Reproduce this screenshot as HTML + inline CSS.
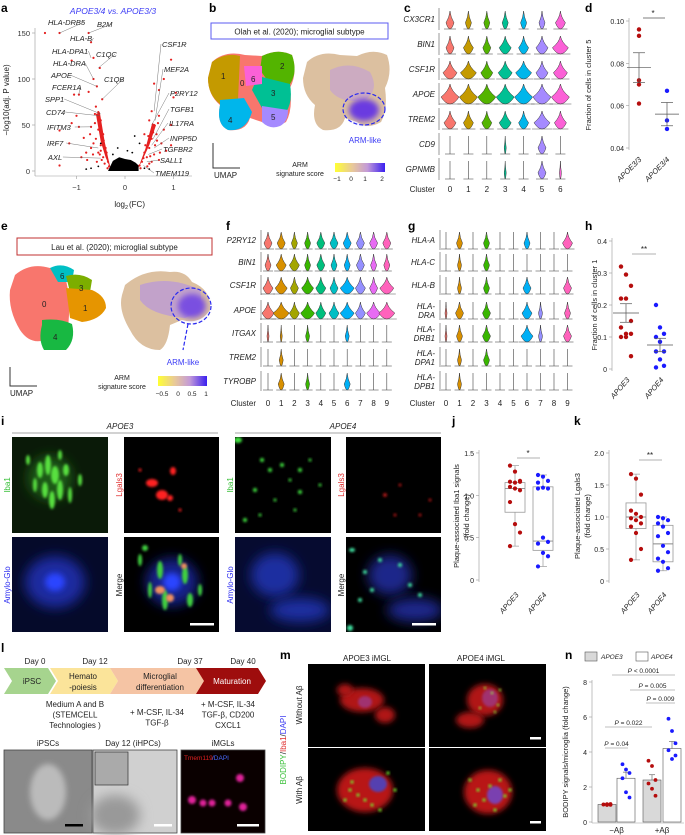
<!DOCTYPE html>
<html><head><meta charset="utf-8"><style>
html,body{margin:0;padding:0;background:#fff;}
svg{display:block;font-family:"Liberation Sans",sans-serif;}
text{font-family:"Liberation Sans",sans-serif;}
</style></head><body>
<svg id="fig" xmlns="http://www.w3.org/2000/svg" width="685" height="835" viewBox="0 0 685 835">
<defs>
<filter id="b1" x="-50%" y="-50%" width="200%" height="200%"><feGaussianBlur stdDeviation="1.2"/></filter>
<filter id="b3" x="-50%" y="-50%" width="200%" height="200%"><feGaussianBlur stdDeviation="3"/></filter>
<filter id="b6" x="-50%" y="-50%" width="200%" height="200%"><feGaussianBlur stdDeviation="6"/></filter>
<linearGradient id="armgrad" x1="0" x2="1"><stop offset="0" stop-color="#ffff33"/><stop offset="0.35" stop-color="#e8c89a"/><stop offset="0.65" stop-color="#c39ad8"/><stop offset="1" stop-color="#3a1ff0"/></linearGradient>
</defs>
</svg>
<script>
const NS='http://www.w3.org/2000/svg';
const svg=document.getElementById('fig');
function mk(tag,attrs,name,parent){
  const el=document.createElementNS(NS,tag);
  for(const k in attrs) el.setAttribute(k,attrs[k]);
  
  
  (parent||svg).appendChild(el);
  return el;
}
function tx(x,y,s,o,name,parent){
  o=o||{};
  const a={x:x,y:y,'font-size':o.fs||8,fill:o.fill||'#222'};
  if(o.anchor) a['text-anchor']=o.anchor;
  if(o.it) a['font-style']='italic';
  if(o.bold) a['font-weight']='bold';
  if(o.rot!==undefined) a.transform='rotate('+o.rot+' '+x+' '+y+')';
  const el=mk('text',a,name,parent);
  el.textContent=s;
  return el;
}
function ln(x1,y1,x2,y2,c,w,name,dash){
  const a={x1:x1,y1:y1,x2:x2,y2:y2,stroke:c||'#333','stroke-width':w||0.7};
  if(dash) a['stroke-dasharray']=dash;
  return mk('line',a,name);
}
function panelLabel(x,y,s){tx(x,y,s,{fs:12,bold:true,fill:'#000'},'panel-label-'+s);}

/* ================= DATA ================= */
const volcRedFC=[-1.65,-1.35,-0.75,-0.7,-1.1,-0.65,-0.52,-0.65,-0.58,-0.47,-0.95,-0.75,-1.05,-0.6,-0.55,-0.62,-1.0,-0.5,-1.1,-0.95,-0.7,-1.35,-0.85,-1.15,-0.55,-0.45,-0.6,-0.5,-0.4,-0.7,-0.8,-1.35,-0.9,-0.45,-0.35,-0.38,-0.55,-0.65,-0.42,-0.33,-0.48,-0.52,-0.36,-0.58,-0.62,-0.72,-0.44,-0.66,-0.78,-0.5,
  0.95,0.6,0.8,0.7,1.0,1.05,0.55,0.7,0.5,0.6,0.95,0.65,0.55,0.75,0.95,0.85,0.5,0.4,0.45,0.35,0.3,0.6,0.7,0.5,0.42,0.62,0.8,0.4,0.32,0.38,0.46,0.55,0.66,0.58,0.72,0.48,0.52,0.68];
const volcRedP=[150,150,150,140,120,123,112,100,92,78,83,86,83,70,64,62,60,55,52,48,48,44,36,30,45,40,35,28,25,25,20,6,15,15,10,20,20,30,8,5,12,18,3,10,52,40,33,18,12,22,
  121,95,100,88,80,85,65,60,55,50,50,40,35,30,28,22,25,20,15,10,6,18,12,8,28,28,45,40,3,14,5,10,33,42,20,38,16,52];
const volcBlkFC=[-0.8,-0.7,-0.55,0.4,0.5,-0.5,0.2,0.3,-0.15,0.05,-0.25,0.15];
const volcBlkP=[2,3,5,3,2,30,38,30,25,22,18,20];
const cloudFC=[-0.35,-0.25,-0.12,0.0,0.12,0.22,0.28,0.28,-0.35];
const cloudP=[0,11,15,13,12,9,6,0,0];
const redLeftFC=[-0.28,-0.4,-0.5,-0.6,-0.52,-0.42,-0.33];
const redLeftP=[0,15,32,62,64,32,10];
const redRightFC=[0.24,0.36,0.5,0.64,0.56,0.42,0.3];
const redRightP=[0,12,28,50,52,24,7];
const volcLabels=['HLA-DRB5','B2M','HLA-B','HLA-DPA1','C1QC','HLA-DRA','APOE','C1QB','FCER1A','SPP1','CD74','IFITM3','IRF7','AXL','CSF1R','MEF2A','P2RY12','TGFB1','IL17RA','INPP5D','TGFBR2','SALL1','TMEM119'];
const volcLabFC=[-1.35,-0.75,-0.7,-0.7,-0.55,-0.65,-0.58,-0.47,-0.95,-0.5,-0.52,-0.7,-0.55,-0.5,0.6,0.62,0.55,0.58,0.55,0.6,0.48,0.45,0.38];
const volcLabP=[150,150,140,123,112,100,92,78,83,62,60,48,25,14,65,55,50,35,28,25,18,10,6];
const volcX=[-1,0,1];
const volcY=[0,50,100,150];

const cGenes=['CX3CR1','BIN1','CSF1R','APOE','TREM2','CD9','GPNMB'];
const cClusters=['0','1','2','3','4','5','6'];
const cWidths=[[4,3,3,3,3,3,5],[4,5,4,6,5,6,8],[7,8,6,7,8,6,7],[9,9,9,9,9,9,9],[6,5,5,6,5,8,6],[0,0,0,1,0,4,0],[0,0,0,1,0,4,1]];
const dGroups=['APOE3/3','APOE3/4'];
const dRed=[0.096,0.093,0.072,0.070,0.061];
const dBlue=[0.067,0.053,0.049];
const dMean=[0.078,0.056];
const dSem=[0.007,0.0055];
const dTicks=[0.04,0.06,0.08,0.10];
const fGenes=['P2RY12','BIN1','CSF1R','APOE','ITGAX','TREM2','TYROBP'];
const fgClusters=['0','1','2','3','4','5','6','7','8','9'];
const fWidths=[[4,4,3,3,4,4,4,4,4,4],[3,5,5,3,4,3,3,4,3,3],[5,6,4,6,5,4,7,5,4,7],[6,8,5,7,5,5,7,5,7,8],[1,1,0,2,0,0,2,0,0,0],[0,2,0,0,0,0,0,0,0,0],[0,3,0,2,0,0,3,0,0,0]];
const gGenes=['HLA-A','HLA-C','HLA-B','HLA-DRA','HLA-DRB1','HLA-DPA1','HLA-DPB1'];
const gWidths=[[0,3,0,3,0,0,3,0,0,5],[0,2,0,3,0,0,0,0,0,0],[0,2,0,3,0,0,4,0,0,4],[1,4,0,4,0,0,5,2,0,3],[1,3,0,4,0,0,6,2,0,4],[0,2,0,3,0,0,0,0,0,0],[0,2,0,0,0,0,0,0,0,0]];
const hGroups=['APOE3','APOE4'];
const hRed=[0.32,0.295,0.26,0.22,0.22,0.15,0.13,0.11,0.11,0.10,0.10,0.04];
const hBlue=[0.20,0.13,0.11,0.10,0.085,0.055,0.055,0.03,0.01,0.005];
const hMean=[0.175,0.075];
const hSem=[0.029,0.021];
const hTicks=[0,0.1,0.2,0.3,0.4];
const jRed=[1.35,1.28,1.17,1.16,1.15,1.16,1.1,1.08,1.06,0.92,0.66,0.56,0.4];
const jBlue=[1.24,1.22,1.17,1.15,1.09,1.08,1.08,0.5,0.45,0.43,0.32,0.28,0.16];
const jBox3=[0.4,0.8,1.08,1.15,1.35];
const jBox4=[0.16,0.35,0.46,1.1,1.24];
const jTicks=[0,0.5,1.0,1.5];
const kRed=[1.67,1.6,1.35,1.1,1.05,1.0,0.98,0.95,0.9,0.85,0.75,0.5,0.33];
const kBlue=[1.0,0.98,0.95,0.9,0.85,0.75,0.7,0.55,0.45,0.35,0.3,0.2,0.16];
const kBox3=[0.33,0.82,1.0,1.22,1.67];
const kBox4=[0.16,0.3,0.58,0.87,1.0];
const kTicks=[0,0.5,1.0,1.5,2.0];
const nConds=['\u2212A\u03b2','+A\u03b2'];
const nMeans=[1.0,2.5,2.4,4.2];
const nSems=[0.05,0.35,0.3,0.4];
const nPts=[[1,1.02,0.98,1.0,0.97,1.03],[3.3,3.0,2.8,2.5,1.7,1.4],[3.5,3.2,2.4,2.2,1.9,1.5],[5.9,5.2,4.5,4.1,3.6,3.8]];
const nTicks=[0,2,4,6,8];

/* ================= PANEL A ================= */
panelLabel(1,12,'a');
tx(113,14,'APOE3/4 vs. APOE3/3',{fs:8.5,it:true,fill:'#3b3bf5',anchor:'middle'},'volcano-title');
const vx=f=>125+f*48.5, vy=p=>171-p*0.92;
ln(35,28,35,176,'#999',0.6,'volcano-y-axis');
ln(35,176,192,176,'#999',0.6,'volcano-x-axis');
volcY.forEach(t=>{ln(32,vy(t),35,vy(t),'#999',0.6,'y-tick');tx(30,vy(t)+3,String(t),{fs:7.5,anchor:'end',fill:'#333'},'y-tick-label');});
volcX.forEach(t=>{ln(vx(t),176,vx(t),179,'#999',0.6,'x-tick');tx(vx(t),190,t<0?'\u22121':String(t),{fs:7.5,anchor:'middle',fill:'#333'},'x-tick-label');});
tx(125,207,'log',{fs:8,anchor:'end'},'x-axis-title');
tx(125,209,'2',{fs:5.5},'x-axis-title-sub');
tx(129,207,'(FC)',{fs:8},'x-axis-title-end');
tx(9,100,'\u2212log10(adj. P value)',{fs:8,anchor:'middle',rot:-90},'y-axis-title');
mk('path',{d:'M'+redLeftFC.map((f,i)=>vx(f)+','+vy(redLeftP[i])).join(' L')+'Z',fill:'#e52020'},'red-band-down');
mk('path',{d:'M'+redRightFC.map((f,i)=>vx(f)+','+vy(redRightP[i])).join(' L')+'Z',fill:'#e52020'},'red-band-up');
mk('path',{d:'M'+cloudFC.map((f,i)=>vx(f)+','+vy(cloudP[i])).join(' L')+'Z',fill:'#000'},'nonsig-cloud');
volcBlkFC.forEach((f,i)=>{mk('circle',{cx:vx(f),cy:vy(volcBlkP[i]),r:0.9,fill:'#000'},'gene-point-ns');});
volcRedFC.forEach((f,i)=>{mk('circle',{cx:vx(f),cy:vy(volcRedP[i]),r:1.1,fill:'#e52020'},'gene-point-sig');});
const labPos=[[48,25],[97,27],[70,41],[52,54],[96,57],[53,66],[51,78],[104,82],[52,90],[45,102],[46,115],[47,130],[47,146],[48,160],[162,47],[164,72],[170,96],[170,112],[169,126],[170,141],[163,152],[160,163],[155,176]];
volcLabels.forEach((g,i)=>{
  const lp=labPos[i];
  const right=volcLabFC[i]>0;
  tx(lp[0],lp[1],g,{fs:7.5,it:true},'gene-label-'+g);
  const lx=right?lp[0]-1:lp[0]+g.length*4.3+2;
  ln(lx,lp[1]-3,vx(volcLabFC[i]),vy(volcLabP[i]),'#555',0.4,'leader-line');
});

/* ================= PANEL B ================= */
panelLabel(209,12,'b');
mk('rect',{x:211,y:23,width:177,height:16,fill:'#fff',stroke:'#5b5bf0','stroke-width':1},'olah-title-box');
tx(299.5,34.5,'Olah et al. (2020); microglial subtype',{fs:8,anchor:'middle'},'olah-title');
function blob(d,fill,name,op){mk('path',{d:d,fill:fill,opacity:op||1},name);}
blob('M212,62 Q225,50 245,55 L262,56 Q278,48 292,55 Q298,72 290,88 Q293,110 286,122 Q272,130 262,122 L250,118 Q246,132 228,130 Q216,124 220,105 Q208,95 208,78 Z','#f8766d','umap-b-cluster-0');
blob('M212,62 Q225,52 240,56 L238,100 L220,104 Q208,95 208,78 Z','#c49a00','umap-b-cluster-1');
blob('M262,56 Q278,48 292,55 Q298,72 290,84 L270,84 L260,70 Z','#53b400','umap-b-cluster-2');
blob('M258,76 L290,84 Q293,102 286,112 L262,108 L252,90 Z','#00c094','umap-b-cluster-3');
blob('M220,100 L244,98 L252,112 Q246,132 228,130 Q216,124 220,105 Z','#00b6eb','umap-b-cluster-4');
blob('M262,106 L288,110 Q288,122 280,126 Q270,130 262,122 Z','#a58aff','umap-b-cluster-5');
blob('M244,66 L262,66 L262,84 L246,86 Z','#fb61d7','umap-b-cluster-6');
tx(221,79,'1',{fs:8},'cluster-label');tx(240,86,'0',{fs:8},'cluster-label');tx(251,82,'6',{fs:8},'cluster-label');
tx(280,69,'2',{fs:8},'cluster-label');tx(271,96,'3',{fs:8},'cluster-label');tx(228,123,'4',{fs:8},'cluster-label');tx(271,120,'5',{fs:8},'cluster-label');
blob('M307,62 Q320,50 340,55 L357,56 Q373,48 387,55 Q393,72 385,88 Q388,110 381,122 Q367,130 357,122 L345,118 Q341,132 323,130 Q311,124 315,105 Q303,95 303,78 Z','#dcc0a0','umap-b-arm');
blob('M330,70 Q350,60 370,72 Q380,90 365,100 Q340,104 330,90 Z','#c5a3cf','umap-b-arm-mid',0.7);
mk('ellipse',{cx:364,cy:110,rx:15,ry:11,fill:'#6a3ae0',filter:'url(#b3)'},'umap-b-arm-hot');
mk('ellipse',{cx:364,cy:109,rx:21,ry:16,fill:'none',stroke:'#2a2af0','stroke-width':1.2,'stroke-dasharray':'4 2'},'arm-like-circle');
tx(365,143,'ARM-like',{fs:8,fill:'#3b3bf5',anchor:'middle'},'arm-like-label');
mk('path',{d:'M213,143 L213,168 L240,168',fill:'none',stroke:'#333','stroke-width':1},'umap-axes-b');
tx(214,178,'UMAP',{fs:8},'umap-label-b');
tx(300,167,'ARM',{fs:7,anchor:'middle'},'colorbar-title');
tx(300,176,'signature score',{fs:7,anchor:'middle'},'colorbar-title-2');
mk('rect',{x:335,y:163,width:50,height:9,fill:'url(#armgrad)'},'colorbar-b');
[['\u22121',337],['0',351],['1',365],['2',382]].forEach(t=>tx(t[1],181,t[0],{fs:6.5,anchor:'middle'},'colorbar-tick'));

function violin(cx,base,h,w,color,name){
  ln(cx-Math.max(w,3)-2,base,cx+Math.max(w,3)+2,base,'#555',0.6,name+'-base');
  if(w<=0.5){ln(cx,base,cx,base-h,'#444',0.6,name+'-stem');return;}
  const top=base-h, mid=base-h*0.35;
  mk('path',{d:`M${cx},${top} Q${cx+w*0.15},${top+h*0.35} ${cx+w},${mid} Q${cx+w*0.5},${base} ${cx},${base} Q${cx-w*0.5},${base} ${cx-w},${mid} Q${cx-w*0.15},${top+h*0.35} ${cx},${top} Z`,fill:color,stroke:'#333','stroke-width':0.5},name);
}
/* ================= PANEL C ================= */
panelLabel(404,12,'c');
const cCols=['#f8766d','#c49a00','#53b400','#00c094','#00b6eb','#a58aff','#fb61d7'];
const cX=i=>450+i*18.4, cRowY=r=>19+r*25;
cGenes.forEach((g,r)=>{
  const y=cRowY(r);
  tx(435,y+3,g,{fs:8,it:true,anchor:'end'},'gene-label-'+g);
  ln(439,y-11,439,y+11,'#555',0.6,'row-axis');
  cClusters.forEach((c,i)=>violin(cX(i),y+10,r===3?20:18,cWidths[r][i],cCols[i],'violin-'+g+'-'+c));
});
tx(435,192,'Cluster',{fs:8,anchor:'end'},'cluster-axis-title');
cClusters.forEach((c,i)=>tx(cX(i),192,c,{fs:8,anchor:'middle'},'cluster-tick'));

/* ================= PANEL D ================= */
panelLabel(585,12,'d');
const dy=v=>148-(v-0.04)/0.06*127;
const dxs=[639,667];
ln(629,18,629,150,'#999',0.6,'d-y-axis');
dTicks.forEach(t=>{ln(626,dy(t),629,dy(t),'#999',0.6,'y-tick');tx(624,dy(t)+3,t.toFixed(2),{fs:7,anchor:'end'},'y-tick-label');});
tx(591,85,'Fraction of cells in cluster 5',{fs:7.5,anchor:'middle',rot:-90},'d-y-title');
dRed.forEach(v=>mk('circle',{cx:dxs[0],cy:dy(v),r:2.2,fill:'#b50d0d'},'point-apoe33'));
dBlue.forEach(v=>mk('circle',{cx:dxs[1],cy:dy(v),r:2.2,fill:'#1a1aff'},'point-apoe34'));
dMean.forEach((m,i)=>{
  ln(dxs[i]-12,dy(m),dxs[i]+12,dy(m),'#555',0.7,'mean-line');
  ln(dxs[i],dy(m-dSem[i]),dxs[i],dy(m+dSem[i]),'#555',0.7,'sem-bar');
  ln(dxs[i]-6,dy(m+dSem[i]),dxs[i]+6,dy(m+dSem[i]),'#555',0.7,'sem-cap');
  ln(dxs[i]-6,dy(m-dSem[i]),dxs[i]+6,dy(m-dSem[i]),'#555',0.7,'sem-cap');
});
ln(643,18,665,18,'#555',0.7,'sig-line');tx(653,16,'*',{fs:8,anchor:'middle'},'sig-star');
dGroups.forEach((g,i)=>tx(dxs[i]+3,160,g,{fs:7.5,it:true,anchor:'end',rot:-45},'x-label-'+g));

/* ================= PANEL E ================= */
panelLabel(1,230,'e');
mk('rect',{x:17,y:238,width:195,height:17,fill:'#fff',stroke:'#c03030','stroke-width':1},'lau-title-box');
tx(114.5,250,'Lau et al. (2020); microglial subtype',{fs:8,anchor:'middle'},'lau-title');
blob('M15,275 Q30,262 50,268 Q62,268 66,280 L70,300 L68,330 Q60,345 45,340 Q30,345 20,330 Q8,310 10,290 Z','#f8766d','umap-e-cluster-0');
blob('M50,268 Q62,262 74,270 L72,282 L58,282 Z','#00bfc4','umap-e-cluster-6');
blob('M66,276 Q80,272 92,280 L90,292 L70,292 Z','#7cae00','umap-e-cluster-3');
blob('M66,288 L92,290 Q106,296 106,308 Q100,320 82,322 L70,318 Z','#e69500','umap-e-cluster-1');
blob('M42,320 Q60,318 72,324 Q76,340 66,350 L44,350 Q38,340 42,325 Z','#18b842','umap-e-cluster-4');
tx(42,307,'0',{fs:8},'cluster-label');tx(60,279,'6',{fs:8},'cluster-label');tx(79,291,'3',{fs:8},'cluster-label');tx(83,311,'1',{fs:8},'cluster-label');tx(53,340,'4',{fs:8},'cluster-label');
blob('M125,285 Q145,268 170,272 Q185,270 192,282 Q212,290 210,310 Q200,325 182,320 L170,325 Q168,345 160,350 Q140,350 130,330 Q118,310 122,295 Z','#dcc0a0','umap-e-arm');
blob('M140,285 Q170,275 200,290 Q205,310 185,318 Q150,315 140,300 Z','#b998d8','umap-e-arm-mid',0.75);
mk('ellipse',{cx:192,cy:306,rx:14,ry:12,fill:'#7a50e0',filter:'url(#b3)'},'umap-e-arm-hot');
mk('ellipse',{cx:191,cy:306,rx:20,ry:18,fill:'none',stroke:'#2a2af0','stroke-width':1.2,'stroke-dasharray':'4 2'},'arm-like-circle-e');
ln(188,324,183,350,'#2a2af0',1.2,'arm-like-pointer','4 2');
tx(183,365,'ARM-like',{fs:8,fill:'#3b3bf5',anchor:'middle'},'arm-like-label-e');
mk('path',{d:'M10,367 L10,386 L37,386',fill:'none',stroke:'#333','stroke-width':1},'umap-axes-e');
tx(10,396,'UMAP',{fs:8},'umap-label-e');
tx(122,380,'ARM',{fs:7,anchor:'middle'},'colorbar-title-e');
tx(122,389,'signature score',{fs:7,anchor:'middle'},'colorbar-title-e2');
mk('rect',{x:158,y:376,width:49,height:10,fill:'url(#armgrad)'},'colorbar-e');
[['\u22120.5',162],['0',178],['0.5',192],['1',206]].forEach(t=>tx(t[1],396,t[0],{fs:6.5,anchor:'middle'},'colorbar-tick'));

/* ================= PANEL F & G ================= */
const fgCols=['#F8766D','#D89000','#A3A500','#39B600','#00BF7D','#00BFC4','#00B0F6','#9590FF','#E76BF3','#FF62BC'];
const fgRowY=[240,262,285,310,333,357,381];
panelLabel(226,230,'f');
const fX=i=>268+i*13.2;
fGenes.forEach((g,r)=>{
  const y=fgRowY[r];
  tx(256,y+3,g,{fs:8,it:true,anchor:'end'},'gene-label-'+g);
  ln(261,y-10,261,y+10,'#555',0.6,'row-axis');
  fgClusters.forEach((c,i)=>violin(fX(i),y+9,17,fWidths[r][i],fgCols[i],'violin-f-'+g+'-'+c));
});
tx(256,406,'Cluster',{fs:8,anchor:'end'},'cluster-axis-title-f');
fgClusters.forEach((c,i)=>tx(fX(i),406,c,{fs:8,anchor:'middle'},'cluster-tick'));
panelLabel(408,230,'g');
const gX=i=>446+i*13.5;
gGenes.forEach((g,r)=>{
  const y=fgRowY[r];
  if(g.length>5){
    tx(435,y-1,'HLA-',{fs:8,it:true,anchor:'end'},'gene-label-'+g);
    tx(435,y+8,g.slice(4),{fs:8,it:true,anchor:'end'},'gene-label-'+g+'-2');
  } else tx(435,y+3,g,{fs:8,it:true,anchor:'end'},'gene-label-'+g);
  ln(440,y-10,440,y+10,'#555',0.6,'row-axis');
  fgClusters.forEach((c,i)=>violin(gX(i),y+9,17,gWidths[r][i],fgCols[i],'violin-g-'+g+'-'+c));
});
tx(435,406,'Cluster',{fs:8,anchor:'end'},'cluster-axis-title-g');
fgClusters.forEach((c,i)=>tx(gX(i),406,c,{fs:8,anchor:'middle'},'cluster-tick'));

/* ================= PANEL H ================= */
panelLabel(585,230,'h');
const hy=v=>369-v*320;
const hxs=[626,660];
ln(612,238,612,371,'#999',0.6,'h-y-axis');
hTicks.forEach(t=>{ln(609,hy(t),612,hy(t),'#999',0.6,'y-tick');tx(607,hy(t)+3,String(t),{fs:7,anchor:'end'},'y-tick-label');});
tx(597,305,'Fraction of cells in cluster 1',{fs:7.5,anchor:'middle',rot:-90},'h-y-title');
hRed.forEach((v,i)=>mk('circle',{cx:hxs[0]+((i%3)-1)*5,cy:hy(v),r:2.2,fill:'#b50d0d'},'point-apoe3'));
hBlue.forEach((v,i)=>mk('circle',{cx:hxs[1]+((i%3)-1)*4,cy:hy(v),r:2.2,fill:'#1a1aff'},'point-apoe4'));
hMean.forEach((m,i)=>{
  ln(hxs[i]-13,hy(m),hxs[i]+13,hy(m),'#555',0.7,'mean-line');
  ln(hxs[i],hy(m-hSem[i]),hxs[i],hy(m+hSem[i]),'#555',0.7,'sem-bar');
  ln(hxs[i]-6,hy(m+hSem[i]),hxs[i]+6,hy(m+hSem[i]),'#555',0.7,'sem-cap');
  ln(hxs[i]-6,hy(m-hSem[i]),hxs[i]+6,hy(m-hSem[i]),'#555',0.7,'sem-cap');
});
ln(632,254,656,254,'#999',0.8,'sig-line-h');tx(644,252,'**',{fs:8,anchor:'middle'},'sig-star-h');
hGroups.forEach((g,i)=>tx(hxs[i]+4,380,g,{fs:7.5,it:true,anchor:'end',rot:-50},'x-label-'+g));

/* ================= PANEL I ================= */
panelLabel(1,425,'i');
tx(120,429,'APOE3',{fs:8,it:true,anchor:'middle'},'apoe3-header');
ln(12,433,218,433,'#888',0.8,'apoe3-header-line');
tx(343,429,'APOE4',{fs:8,it:true,anchor:'middle'},'apoe4-header');
ln(235,433,441,433,'#888',0.8,'apoe4-header-line');
function micro(x,y,w,h,name){
  const g=mk('g',{},name);
  mk('rect',{x:x,y:y,width:w,height:h,fill:'#000'},name+'-bg',g);
  const cp=mk('clipPath',{id:'cp-'+name},name+'-clip',g);
  mk('rect',{x:x,y:y,width:w,height:h},name+'-clip-rect',cp);
  return mk('g',{'clip-path':'url(#cp-'+name+')'},name+'-content',g);
}
function blobs(parent,pts,color,filt,name){pts.forEach(p=>mk('ellipse',{cx:p[0],cy:p[1],rx:p[2],ry:p[3]||p[2],fill:color,filter:filt||'url(#b1)'},name,parent));}
let m=micro(12,437,96,96,'apoe3-iba1-image');
mk('rect',{x:12,y:437,width:96,height:96,fill:'#0a1a08'},'tint',m);
blobs(m,[[50,478,22,22]],'#1f5a18','url(#b6)','glow');
blobs(m,[[40,470,3,8],[48,465,3,10],[55,475,4,9],[60,490,3,10],[45,490,3,8],[35,485,2,7],[66,470,3,6],[52,500,3,9],[70,495,2,8],[28,460,2,5],[80,480,2,6],[60,455,2,5]],'#58e040','url(#b1)','iba1-cell');
m=micro(124,437,95,96,'apoe3-lgals3-image');
blobs(m,[[152,483,6,4],[162,495,6,5],[173,471,3,4],[170,498,3,3],[140,470,1.5],[180,510,1.5]],'#ff2020','url(#b1)','lgals3-spot');
m=micro(12,537,96,95,'apoe3-amyloglo-image');
mk('rect',{x:12,y:537,width:96,height:95,fill:'#050a2a'},'tint',m);
blobs(m,[[55,582,30,26]],'#1a2aa0','url(#b6)','plaque-halo');
blobs(m,[[55,582,10,9]],'#2a44ff','url(#b3)','plaque-core');
m=micro(124,537,95,95,'apoe3-merge-image');
blobs(m,[[172,582,26,24]],'#15208a','url(#b6)','plaque-halo');
blobs(m,[[172,582,9,9]],'#2a44ff','url(#b3)','plaque-core');
blobs(m,[[160,570,3,9],[165,600,3,10],[185,575,3,9],[150,590,2,8],[190,600,3,7],[140,560,2,6],[180,560,2,6],[200,590,2,6],[145,548,3,3]],'#40d040','url(#b1)','iba1-cell');
blobs(m,[[160,590,5,4],[170,598,4,4],[184,566,3,3]],'#f09060','url(#b1)','colocal');
mk('rect',{x:190,y:623,width:24,height:2.5,fill:'#fff'},'scale-bar',m);
m=micro(235,437,96,96,'apoe4-iba1-image');
blobs(m,[[262,460,2],[270,470,2],[282,465,2],[290,480,1.5],[300,470,2],[310,460,1.5],[255,490,2],[275,500,1.5],[295,510,1.5],[320,485,1.5],[245,520,2],[260,515,1.5],[300,492,2],[238,440,4,3]],'#40e040','url(#b1)','iba1-speck');
m=micro(346,437,95,96,'apoe4-lgals3-image');
blobs(m,[[385,495,2],[400,485,1.5],[420,515,1.5],[430,500,1.5],[395,515,1.5]],'#b01818','url(#b1)','lgals3-speck');
m=micro(235,537,96,95,'apoe4-amyloglo-image');
mk('rect',{x:235,y:537,width:96,height:95,fill:'#060b30'},'tint',m);
blobs(m,[[275,575,24,22],[300,610,30,12]],'#1e2da0','url(#b6)','plaque-halo');
m=micro(346,537,95,95,'apoe4-merge-image');
blobs(m,[[390,575,22,20],[415,610,28,12]],'#1a258a','url(#b6)','plaque-halo');
blobs(m,[[352,550,3,2],[365,572,2],[380,560,2],[400,565,2],[372,590,2],[360,600,2],[410,585,2],[420,595,2],[350,628,3]],'#40e0a0','url(#b1)','merge-speck');
mk('rect',{x:412,y:623,width:24,height:2.5,fill:'#fff'},'scale-bar',m);
[[7,'Iba1','#3ac03a',485],[119,'Lgals3','#e03030',485],[230,'Iba1','#3ac03a',485],[341,'Lgals3','#e03030',485],
 [7,'Amylo-Glo','#2a2af0',585],[119,'Merge','#222',585],[230,'Amylo-Glo','#2a2af0',585],[341,'Merge','#222',585]].forEach(l=>{
  tx(l[0]+3,l[3],l[1],{fs:8,fill:l[2],anchor:'middle',rot:-90},'image-channel-label');
});

/* ================= PANEL J ================= */
panelLabel(452,425,'j');
const jy=v=>580-v*84.7;
const jxs=[515,543];
ln(479,450,479,582,'#999',0.6,'j-y-axis');
jTicks.forEach(t=>{ln(476,jy(t),479,jy(t),'#999',0.6,'y-tick');tx(474,jy(t)+3,t===0?'0':t.toFixed(1),{fs:7,anchor:'end'},'y-tick-label');});
tx(459,516,'Plaque-associated Iba1 signals',{fs:7.5,anchor:'middle',rot:-90},'j-y-title');
tx(469,516,'(fold change)',{fs:7.5,anchor:'middle',rot:-90},'j-y-title-2');
function boxplot(x,b,sc,name){
  ln(x,sc(b[0]),x,sc(b[4]),'#999',0.7,name+'-whisker');
  ln(x-4,sc(b[0]),x+4,sc(b[0]),'#999',0.7,name+'-cap');
  ln(x-4,sc(b[4]),x+4,sc(b[4]),'#999',0.7,name+'-cap');
  mk('rect',{x:x-10,y:sc(b[3]),width:20,height:sc(b[1])-sc(b[3]),fill:'#fff',stroke:'#999','stroke-width':0.8},name+'-box');
  ln(x-10,sc(b[2]),x+10,sc(b[2]),'#888',0.9,name+'-median');
}
boxplot(jxs[0],jBox3,jy,'j-box-apoe3');boxplot(jxs[1],jBox4,jy,'j-box-apoe4');
jRed.forEach((v,i)=>mk('circle',{cx:jxs[0]+((i%3)-1)*5,cy:jy(v),r:2.1,fill:'#b50d0d'},'point-apoe3'));
jBlue.forEach((v,i)=>mk('circle',{cx:jxs[1]+((i%3)-1)*5,cy:jy(v),r:2.1,fill:'#1a1aff'},'point-apoe4'));
ln(517,458,540,458,'#999',0.8,'sig-line-j');tx(528,456,'*',{fs:8,anchor:'middle'},'sig-star-j');
hGroups.forEach((g,i)=>tx(jxs[i]+4,595,g,{fs:7.5,it:true,anchor:'end',rot:-50},'x-label-'+g));

/* ================= PANEL K ================= */
panelLabel(574,425,'k');
const ky=v=>581-v*64;
const kxs=[636,663];
ln(609,450,609,583,'#999',0.6,'k-y-axis');
kTicks.forEach(t=>{ln(606,ky(t),609,ky(t),'#999',0.6,'y-tick');tx(604,ky(t)+3,t===0?'0':t.toFixed(1),{fs:7,anchor:'end'},'y-tick-label');});
tx(580,516,'Plaque-associated Lgals3',{fs:7.5,anchor:'middle',rot:-90},'k-y-title');
tx(590,516,'(fold change)',{fs:7.5,anchor:'middle',rot:-90},'k-y-title-2');
boxplot(kxs[0],kBox3,ky,'k-box-apoe3');boxplot(kxs[1],kBox4,ky,'k-box-apoe4');
kRed.forEach((v,i)=>mk('circle',{cx:kxs[0]+((i%3)-1)*5,cy:ky(v),r:2.1,fill:'#b50d0d'},'point-apoe3'));
kBlue.forEach((v,i)=>mk('circle',{cx:kxs[1]+((i%3)-1)*5,cy:ky(v),r:2.1,fill:'#1a1aff'},'point-apoe4'));
ln(639,460,662,460,'#999',0.8,'sig-line-k');tx(650,458,'**',{fs:8,anchor:'middle'},'sig-star-k');
hGroups.forEach((g,i)=>tx(kxs[i]+4,595,g,{fs:7.5,it:true,anchor:'end',rot:-50},'x-label-'+g));

/* ================= PANEL L ================= */
panelLabel(1,652,'l');
[['Day 0',35],['Day 12',95],['Day 37',190],['Day 40',243]].forEach(d=>tx(d[1],664,d[0],{fs:8,anchor:'middle'},'timeline-day'));
mk('path',{d:'M4,668 L48,668 L56,681 L48,694 L4,694 L12,681 Z',fill:'#a6d48e'},'stage-ipsc');
mk('path',{d:'M50,668 L110,668 L118,681 L110,694 L50,694 L58,681 Z',fill:'#fbe49a'},'stage-hematopoiesis');
mk('path',{d:'M110,668 L200,668 L208,681 L200,694 L110,694 L118,681 Z',fill:'#f5c4a4'},'stage-microglial-diff');
mk('path',{d:'M196,668 L258,668 L266,681 L258,694 L196,694 L204,681 Z',fill:'#9e0d0d'},'stage-maturation');
tx(32,684,'iPSC',{fs:8,anchor:'middle'},'stage-label');
tx(83,679,'Hemato',{fs:8,anchor:'middle'},'stage-label');tx(83,690,'-poiesis',{fs:8,anchor:'middle'},'stage-label');
tx(160,679,'Microglial',{fs:8,anchor:'middle'},'stage-label');tx(160,690,'differentiation',{fs:8,anchor:'middle'},'stage-label');
tx(232,684,'Maturation',{fs:8,anchor:'middle',fill:'#fff'},'stage-label');
['Medium A and B','(STEMCELL','Technologies )'].forEach((s,i)=>tx(75,707+i*10.5,s,{fs:8,anchor:'middle'},'medium-text'));
['+ M-CSF, IL-34','TGF-\u03b2'].forEach((s,i)=>tx(157,715+i*10.5,s,{fs:8,anchor:'middle'},'medium-text'));
['+ M-CSF, IL-34','TGF-\u03b2, CD200','CXCL1'].forEach((s,i)=>tx(228,707+i*10.5,s,{fs:8,anchor:'middle'},'medium-text'));
tx(48,746,'iPSCs',{fs:8,anchor:'middle'},'image-title');tx(133,746,'Day 12 (iHPCs)',{fs:8,anchor:'middle'},'image-title');tx(223,746,'iMGLs',{fs:8,anchor:'middle'},'image-title');
mk('rect',{x:4,y:750,width:88,height:83,fill:'#8a8a8a',stroke:'#444','stroke-width':0.8},'ipsc-image');
mk('ellipse',{cx:48,cy:792,rx:18,ry:28,fill:'#bbb',filter:'url(#b3)'},'ipsc-colony');
mk('rect',{x:65,y:824,width:18,height:2.5,fill:'#000'},'scale-bar');
mk('rect',{x:93,y:750,width:84,height:83,fill:'#d0d0d0',stroke:'#444','stroke-width':0.8},'ihpc-image');
mk('ellipse',{cx:115,cy:815,rx:25,ry:20,fill:'#999',filter:'url(#b6)'},'ihpc-dark');
mk('rect',{x:95,y:752,width:33,height:33,fill:'#aaa',stroke:'#333','stroke-width':0.7},'ihpc-inset');
mk('rect',{x:154,y:824,width:18,height:2.5,fill:'#fff'},'scale-bar');
mk('rect',{x:181,y:750,width:84,height:83,fill:'#0a0000',stroke:'#444','stroke-width':0.8},'imgl-image');
tx(184,760,'Tmem119',{fs:6.5,fill:'#e02020'},'imgl-stain-1');tx(212,760,'/DAPI',{fs:6.5,fill:'#4a6aff'},'imgl-stain-2');
blobs(svg,[[240,778,4],[192,800,4],[203,803,3.5],[212,803,3.5],[228,803,3.5],[243,807,4]],'#e0209a','url(#b1)','imgl-cell');
mk('rect',{x:237,y:824,width:22,height:2.5,fill:'#fff'},'scale-bar');

/* ================= PANEL M ================= */
panelLabel(280,659,'m');
tx(367,661,'APOE3 iMGL',{fs:8,anchor:'middle'},'m-col-apoe3');
tx(481,661,'APOE4 iMGL',{fs:8,anchor:'middle'},'m-col-apoe4');
const mx=[308,429], my=[664,748], mw=117, mh=83;
mx.forEach((x,ci)=>my.forEach((y,ri)=>{
  mk('rect',{x:x,y:y,width:mw,height:mh,fill:'#000'},'m-image-'+ci+'-'+ri);
}));
blobs(svg,[[362,700,22,12],[345,690,8,6],[385,715,10,8]],'#b01818','url(#b3)','iba1-cell');
blobs(svg,[[365,702,7,6]],'#a03070','url(#b1)','nucleus');
blobs(svg,[[485,700,18,16],[470,720,14,8]],'#b01818','url(#b3)','iba1-cell');
blobs(svg,[[490,698,8,9]],'#a03070','url(#b1)','nucleus');
blobs(svg,[[485,688,1.2],[492,693,1.2],[498,705,1.2],[480,708,1.2],[495,712,1.2],[500,690,1.2]],'#90ff40','url(#b1)','lipid');
blobs(svg,[[365,790,28,22]],'#b81818','url(#b3)','iba1-cell');
blobs(svg,[[378,784,9,8]],'#5540b0','url(#b1)','nucleus');
blobs(svg,[[488,792,24,22]],'#b81818','url(#b3)','iba1-cell');
blobs(svg,[[495,795,8,9]],'#7a40b0','url(#b1)','nucleus');
blobs(svg,[[352,782,1.5],[358,795,1.5],[365,800,1.5],[372,805,1.5],[350,790,1.5],[388,773,1.5],[395,790,1.5],[345,800,1.5],[380,810,1.5],[470,780,1.5],[478,790,1.5],[484,800,1.5],[490,786,1.5],[500,780,1.5],[505,796,1.5],[475,805,1.5],[510,790,1.5],[495,810,1.5]],'#70ff30','url(#b1)','lipid');
mk('rect',{x:530,y:737,width:11,height:2.5,fill:'#fff'},'scale-bar');
mk('rect',{x:530,y:821,width:11,height:2.5,fill:'#fff'},'scale-bar');
const bt=mk('text',{x:286,y:750,'font-size':8,'text-anchor':'middle',transform:'rotate(-90 286 750)'},'m-stain-label');
bt.innerHTML='<tspan fill="#3ac03a">BODIPY</tspan><tspan fill="#222">/</tspan><tspan fill="#e03030">Iba1</tspan><tspan fill="#222">/</tspan><tspan fill="#3a3af0">DAPI</tspan>';
tx(302,705,'Without A\u03b2',{fs:8,anchor:'middle',rot:-90},'m-row-without');
tx(302,790,'With A\u03b2',{fs:8,anchor:'middle',rot:-90},'m-row-with');

/* ================= PANEL N ================= */
panelLabel(565,659,'n');
mk('rect',{x:585,y:652,width:12,height:9,fill:'#d9d9d9',stroke:'#555','stroke-width':0.6},'legend-swatch-apoe3');
tx(601,659,'APOE3',{fs:6.5,it:true},'legend-label-apoe3');
mk('rect',{x:636,y:652,width:12,height:9,fill:'#fff',stroke:'#555','stroke-width':0.6},'legend-swatch-apoe4');
tx(651,659,'APOE4',{fs:6.5,it:true},'legend-label-apoe4');
const ny=v=>822-v*17.5;
ln(592,680,592,823,'#999',0.6,'n-y-axis');
ln(592,823,684,823,'#999',0.6,'n-x-axis');
nTicks.forEach(t=>{ln(589,ny(t),592,ny(t),'#999',0.6,'y-tick');tx(587,ny(t)+3,String(t),{fs:7,anchor:'end'},'y-tick-label');});
tx(568,752,'BODIPY signals/microglia (fold change)',{fs:7.5,anchor:'middle',rot:-90},'n-y-title');
const nx=[607,626,652,672];
nMeans.forEach((v,i)=>{
  mk('rect',{x:nx[i]-9,y:ny(v),width:18,height:ny(0)-ny(v),fill:i%2?'#fff':'#d9d9d9',stroke:'#555','stroke-width':0.6},'bar-'+i);
  ln(nx[i],ny(v),nx[i],ny(v+nSems[i]),'#555',0.6,'err-bar');
  ln(nx[i]-3,ny(v+nSems[i]),nx[i]+3,ny(v+nSems[i]),'#555',0.6,'err-cap');
  nPts[i].forEach((p,j)=>mk('circle',{cx:nx[i]+((j%3)-1)*3.5,cy:ny(p),r:1.9,fill:i%2?'#1a1aff':'#b50d0d'},'point-'+i));
});
nConds.forEach((c,i)=>tx((nx[2*i]+nx[2*i+1])/2,833,c,{fs:8,anchor:'middle'},'x-label'));
[['P < 0.0001',612,675,675],['P = 0.005',630,675,690],['P = 0.009',646,675,703],['P = 0.022',605,652,727],['P = 0.04',605,628,748]].forEach(s=>{
  ln(s[1],s[3],s[2],s[3],'#aaa',0.8,'sig-line-n');
  const t=mk('text',{x:(s[1]+s[2])/2,y:s[3]-2,'font-size':6.5,'text-anchor':'middle',fill:'#222'},'sig-label-n');
  t.innerHTML='<tspan font-style="italic">P</tspan>'+s[0].slice(1);
});
</script>
</body></html>
